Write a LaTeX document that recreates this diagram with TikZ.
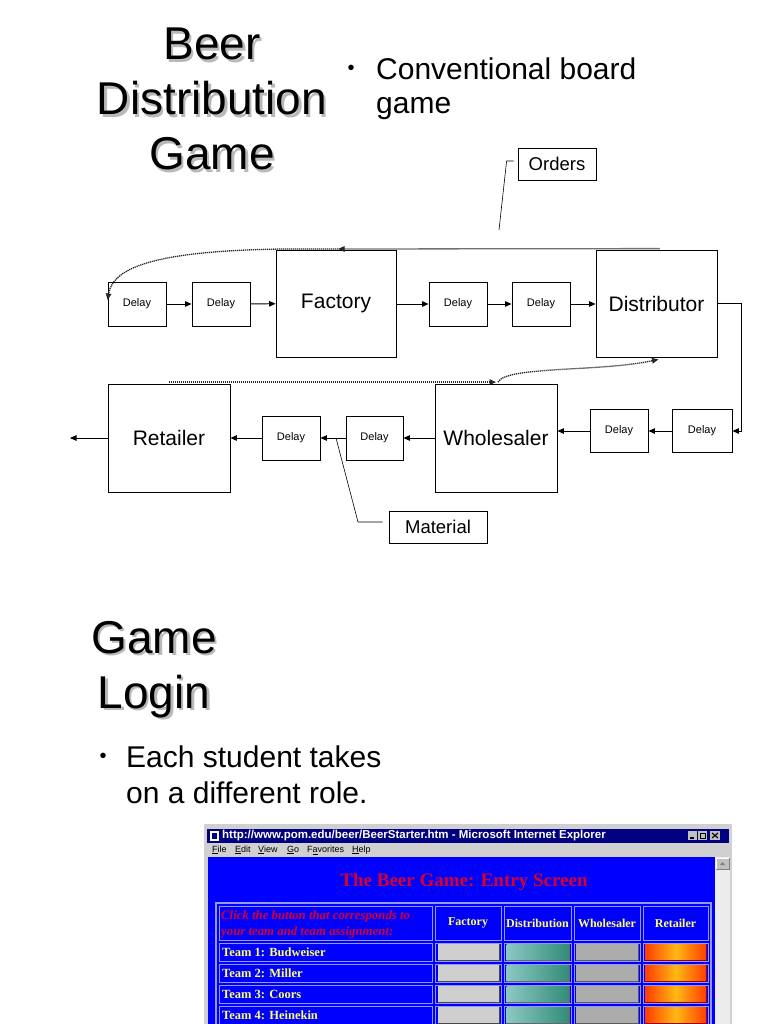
\documentclass[tikz,border=0pt]{standalone}
\usepackage{fontspec}
\setmainfont{Liberation Sans}
\newfontfamily\serifwin{Liberation Serif}
\usetikzlibrary{arrows.meta}
\definecolor{navy}{RGB}{0,0,128}
\definecolor{winblue}{RGB}{0,0,255}
\definecolor{cellline}{RGB}{150,150,255}
\definecolor{hdred}{RGB}{215,0,45}
\definecolor{paleyel}{RGB}{255,255,110}
\definecolor{wingray}{RGB}{192,192,192}
\definecolor{shadowgray}{RGB}{185,185,185}
\definecolor{tealA}{RGB}{140,200,195}
\definecolor{tealB}{RGB}{50,140,120}
\definecolor{orangeA}{RGB}{255,60,0}
\definecolor{orangeB}{RGB}{255,185,20}
\newcommand\shadowtxt[1]{\leavevmode\rlap{\kern2.5pt\raisebox{-2.5pt}{\color{shadowgray}#1}}#1}
\begin{document}
\begin{tikzpicture}[x=1pt,y=-1pt,
  ttl/.style={font=\fontsize{46}{55}\selectfont, anchor=base, inner sep=0, align=center},
  bul/.style={font=\fontsize{20}{24}\selectfont, anchor=base, inner sep=0},
  btxt/.style={font=\fontsize{30}{36}\selectfont, anchor=base west, inner sep=0, align=left},
  box/.style={draw, line width=0.8pt, inner sep=0, align=center},
  delaybox/.style={box, minimum width=58pt, minimum height=44pt, font=\fontsize{11}{12}\selectfont},
  rolebox/.style={box, minimum width=121pt, minimum height=107pt, font=\fontsize{21}{24}\selectfont},
  labelbox/.style={box, minimum height=32pt, font=\fontsize{18.5}{20}\selectfont},
  flow/.style={line width=0.9pt, -{Triangle[length=6.5pt,width=5.5pt]}},
  ordline/.style={dash pattern=on 1.2pt off 0.8pt, line width=1.3pt, black!85, -{Triangle[length=6.5pt,width=5.5pt]}},
  leader/.style={line width=0.6pt},
  wintitle/.style={font=\bfseries\fontsize{11.5}{13}\selectfont, text=white, anchor=west, inner sep=0},
  menu/.style={font=\fontsize{9}{10}\selectfont, anchor=west, inner sep=0},
  cell/.style={draw=cellline, line width=1pt},
  redhd/.style={font=\serifwin\bfseries\itshape\fontsize{12.8}{16}\selectfont, text=hdred, anchor=base west, inner sep=0, align=left},
  colhd/.style={font=\serifwin\bfseries\fontsize{12}{14}\selectfont, text=paleyel, inner sep=0},
  team/.style={font=\serifwin\bfseries\fontsize{12.5}{14}\selectfont, text=paleyel, anchor=west, inner sep=0}
]
\useasboundingbox (0,0) rectangle (768,1024);
\fill[white] (0,0) rectangle (768,1024);

% ---------- titles ----------
\node[ttl] (title) at (212,170) {\shadowtxt{Beer}\\\shadowtxt{Distribution}\\\shadowtxt{Game}};

\node[bul] (b1) at (351,75) {•};
\node[btxt, font=\fontsize{30}{34}\selectfont] (c1) at (376,114) {Conventional board\\game};

% ---------- diagram ----------
\node[delaybox] (d1) at (137,304) {Delay};
\node[delaybox] (d2) at (221,304) {Delay};
\node[rolebox, minimum width=120pt] (factory) at (336,303.5) {Factory};
\node[delaybox] (d3) at (458,304) {Delay};
\node[delaybox] (d4) at (541,304) {Delay};
\node[rolebox] (dist) at (656.5,303.5) {Distributor};

\node[delaybox, minimum width=60pt, minimum height=43pt] (d5) at (702,431) {Delay};
\node[delaybox, minimum height=43pt] (d6) at (619,431) {Delay};
\node[rolebox, minimum width=122pt, minimum height=108pt] (whole) at (496,438) {Wholesaler};
\node[delaybox, minimum width=57pt] (d7) at (374.5,438) {Delay};
\node[delaybox] (d8) at (291,438) {Delay};
\node[rolebox, minimum width=122pt, minimum height=108pt] (retail) at (169,438) {Retailer};
\coordinate (out) at (70,438);

\node[labelbox, minimum width=78pt] (orders) at (557,164) {Orders};
\node[labelbox, minimum width=98pt] (matl) at (438,527) {Material};

\draw[flow] (d1) -- (d2);
\draw[flow] (d2) -- (factory);
\draw[flow] (factory.east |- d3) -- (d3);
\draw[flow] (d3) -- (d4);
\draw[flow] (d4) -- (dist.west |- d4);
\draw[flow] (dist.east) -- ++(24,0) |- (d5.east);
\draw[flow] (d5) -- (d6);
\draw[flow] (d6.west) -- (d6.west -| whole.east);
\draw[flow] (whole.west |- d7) -- (d7);
\draw[flow] (d7) -- (d8);
\draw[flow] (d8.west) -- (d8.west -| retail.east);
\draw[flow] (retail.west |- out) -- (out);

% orders flow (dotted)
\coordinate (omid) at (338,249);
\coordinate (ostop) at (281,249);
\draw[ordline] ([xshift=3pt,yshift=1pt]dist.north) -- (omid);
\draw[ordline] (omid) -- (ostop) .. controls (160,251) and (113,266) .. ([yshift=4pt]d1.west);
\draw[ordline] ([yshift=1.5pt]retail.north) -- ([yshift=1.5pt]whole.north);
\draw[ordline] ([xshift=2pt,yshift=1.5pt]whole.north) .. controls (506,366) and (600,372) .. ([xshift=2pt,yshift=-2pt]dist.south);

% leaders
\coordinate (otip) at (499,230);
\coordinate (mtip) at (336,438);
\draw[leader] ([xshift=-4pt,yshift=3pt]orders.west) -- ++(-7,0) -- (otip);
\draw[leader] ([xshift=-6pt,yshift=5pt]matl.west) -- (358,522) -- (mtip);

% ---------- Game Login ----------
\node[ttl] (login) at (154,708) {\shadowtxt{Game}\\\shadowtxt{Login}};

\node[bul] (b2) at (103,762) {•};
\node[btxt] (e1) at (126,803) {Each student takes\\on a different role.};

% ---------- screenshot ----------
\fill[wingray!75!white] (204,824) rectangle (732,1024);
\fill[navy] (207,829) rectangle (729,843);
\fill[white] (210,831) rectangle (219,841);
\fill[blue!60!black] (212,833) rectangle (217,839);
\node[wintitle] (wt) at (222,836) {http://www.pom.edu/beer/BeerStarter.htm - Microsoft Internet Explorer};
% window buttons
\fill[wingray] (688,831) rectangle (697,840);
\draw[line width=1.2pt] (690,838) -- (694,838);
\fill[wingray] (698,831) rectangle (707,840);
\draw[line width=0.7pt] (700,833) rectangle (705,838);
\fill[wingray] (710,831) rectangle (720,840);
\draw[line width=1.1pt] (712,833) -- (718,838) (712,838) -- (718,833);
% menu
\node[menu] (m1) at (212,850) {\underline{F}ile};
\node[menu] (m2) at (235,850) {\underline{E}dit};
\node[menu] (m3) at (258,850) {\underline{V}iew};
\node[menu] (m4) at (287,850) {\underline{G}o};
\node[menu] (m5) at (307,850) {F\underline{a}vorites};
\node[menu] (m6) at (352,850) {\underline{H}elp};
% content
\fill[winblue] (208,857) rectangle (715,1024);
\fill[gray!15] (715,857) rectangle (730,1024);
\fill[wingray] (716,858) rectangle (729,869);
\draw[white, line width=0.6pt] (716,869) -- (716,858) -- (729,858);
\draw[gray, line width=0.6pt] (716,869) -- (729,869) -- (729,858);
\fill[gray] (720,865) -- (725,865) -- (722.5,862) -- cycle;
\node[font=\serifwin\bfseries\fontsize{19}{22}\selectfont, text=hdred, inner sep=0] (hd) at (464,882) {The Beer Game: Entry Screen};
% table
\draw[cell, line width=1.3pt] (216,903) rectangle (711,1026);
\foreach \xa/\xb in {219/432, 435/501, 504/571, 574/640, 643/708}
  \foreach \ya/\yb in {906/940, 943/961, 964/982, 985/1003, 1006/1024}
    \draw[cell] (\xa,\ya) rectangle (\xb,\yb);
\foreach \ya/\yb in {944/960, 965/981, 986/1002, 1007/1023} {
  \fill[gray!38] (437.5,\ya) rectangle (499.5,\yb);
  \draw[gray!55!black, line width=0.8pt] (437.5,\yb) -- (499.5,\yb) -- (499.5,\ya);
  \shade[left color=tealA, right color=tealB] (506.5,\ya) rectangle (569,\yb);
  \draw[black!60, line width=0.8pt] (506.5,\yb) -- (569,\yb) -- (569,\ya);
  \fill[gray!65] (576,\ya) rectangle (638.5,\yb);
  \draw[black!65, line width=0.8pt] (576,\yb) -- (638.5,\yb) -- (638.5,\ya);
  \shade[left color=orangeA, right color=orangeA, middle color=orangeB] (645,\ya) rectangle (706.5,\yb);
  \draw[red!60!black, line width=0.8pt] (645,\yb) -- (706.5,\yb) -- (706.5,\ya);
}
\node[redhd] (h1) at (221,935) {Click the button that corresponds to\\your team and team assignment:};
\node[colhd] (ch1) at (468,923) {Factory};
\node[colhd] (ch2) at (537.5,923) {Distribution};
\node[colhd] (ch3) at (607,923) {Wholesaler};
\node[colhd] (ch4) at (675.5,923) {Retailer};
\node[team] (r1) at (222,952) {Team 1: Budweiser};
\node[team] (r2) at (222,973) {Team 2: Miller};
\node[team] (r3) at (222,994) {Team 3: Coors};
\node[team] (r4) at (222,1015) {Team 4: Heinekin};
\end{tikzpicture}
\end{document}
